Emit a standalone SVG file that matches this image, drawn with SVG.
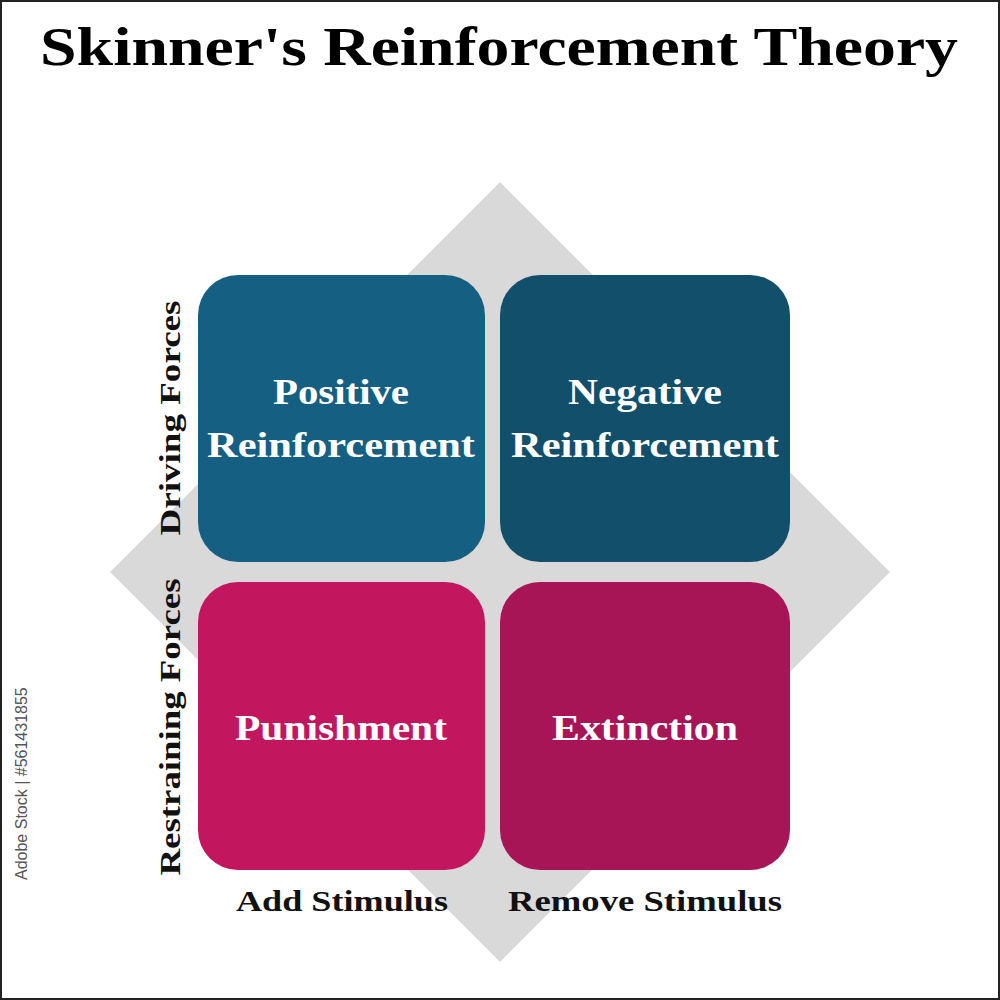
<svg xmlns="http://www.w3.org/2000/svg" width="1000" height="1000" viewBox="0 0 1000 1000">
<style>
.t{font-family:"Liberation Serif",serif;font-weight:bold}
.w{fill:#fff;font-size:36px;text-anchor:middle}
.a{fill:#111;font-size:30px;text-anchor:middle}
</style>
<rect x="1" y="1" width="998" height="998" fill="#fff" stroke="#222" stroke-width="2"/>
<text class="t" x="499" y="65" font-size="54" text-anchor="middle" fill="#000" textLength="918" lengthAdjust="spacingAndGlyphs">Skinner's Reinforcement Theory</text>
<polygon points="500,182 890,572 500,962 110,572" fill="#d9d9d9"/>
<g id="positive"><rect x="198" y="275" width="287" height="287" rx="40" fill="#156082"/>
<text class="t w" x="341" y="404" textLength="136" lengthAdjust="spacingAndGlyphs">Positive</text><text class="t w" x="341" y="457" textLength="268" lengthAdjust="spacingAndGlyphs">Reinforcement</text></g>
<g id="negative"><rect x="500" y="275" width="290" height="287" rx="40" fill="#124f6b"/>
<text class="t w" x="645" y="404" textLength="154" lengthAdjust="spacingAndGlyphs">Negative</text><text class="t w" x="645" y="457" textLength="268" lengthAdjust="spacingAndGlyphs">Reinforcement</text></g>
<g id="punishment"><rect x="198" y="582" width="287" height="288" rx="40" fill="#c2175f"/>
<text class="t w" x="341" y="740" textLength="212" lengthAdjust="spacingAndGlyphs">Punishment</text></g>
<g id="extinction"><rect x="500" y="582" width="290" height="288" rx="40" fill="#a71556"/>
<text class="t w" x="645" y="740" textLength="186" lengthAdjust="spacingAndGlyphs">Extinction</text></g>
<g id="labels">
<text class="t a" transform="translate(180,418) rotate(-90)" textLength="235" lengthAdjust="spacingAndGlyphs">Driving Forces</text>
<text class="t a" transform="translate(180,727) rotate(-90)" textLength="297" lengthAdjust="spacingAndGlyphs">Restraining Forces</text>
<text class="t a" x="342" y="911" textLength="212" lengthAdjust="spacingAndGlyphs">Add Stimulus</text>
<text class="t a" x="645" y="911" textLength="274" lengthAdjust="spacingAndGlyphs">Remove Stimulus</text>
<text transform="translate(27,880) rotate(-90)" font-family="Liberation Sans,sans-serif" font-size="16" fill="#555">Adobe Stock | #561431855</text>
</g>
<g id="connectors"/>
</svg>
